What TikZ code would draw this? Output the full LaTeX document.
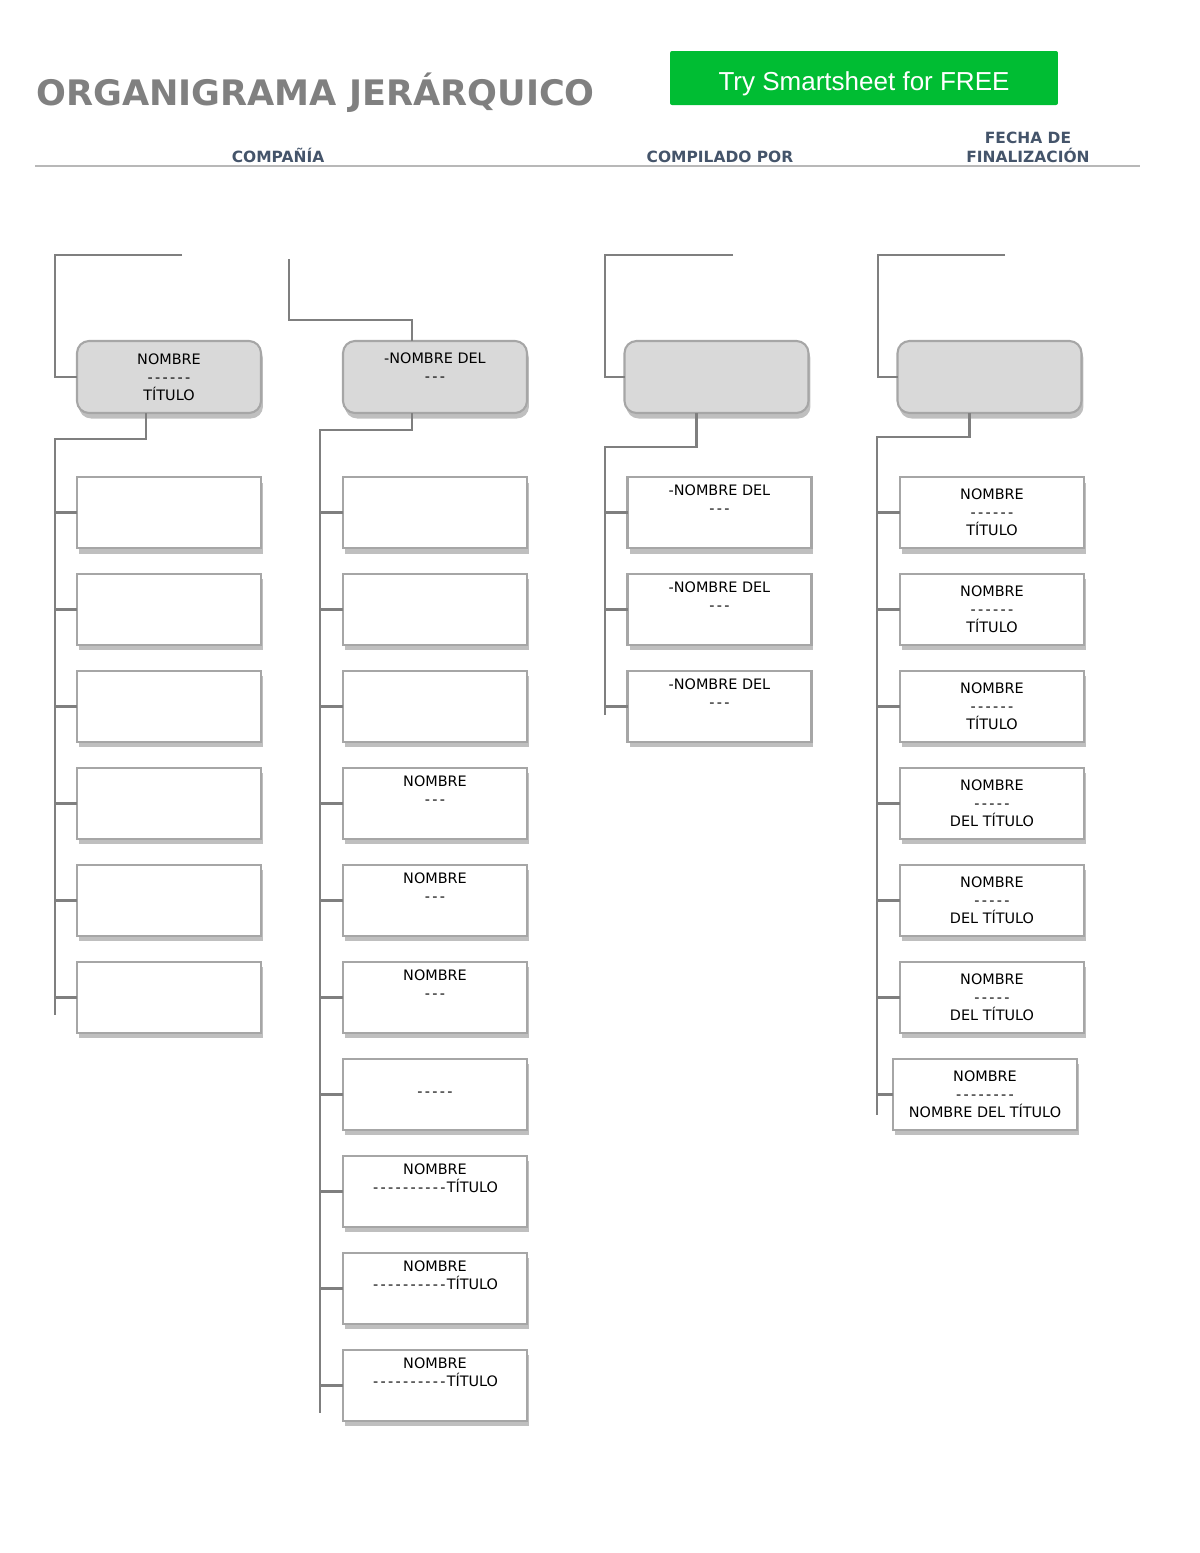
\documentclass[tikz,border=0pt]{standalone}
\usepackage{fontspec}
\setmainfont{DejaVu Sans}
\newfontfamily\botonfont{Liberation Sans}
\usetikzlibrary{positioning,shadows}
\definecolor{gristitulo}{HTML}{808080}
\definecolor{azulcab}{HTML}{44546A}
\definecolor{verdeboton}{HTML}{00BD33}
\definecolor{grislinea}{HTML}{7F7F7F}
\definecolor{borde}{HTML}{A6A6A6}
\definecolor{rellenojefe}{HTML}{D9D9D9}
\newcommand\letra{\fontsize{8.2}{10.2}\selectfont}
\newcommand\rayas[1]{\foreach \k in {1,...,#1}{\kern0.65pt-\kern0.65pt}}

\begin{document}
\begin{tikzpicture}[
		x=0.02cm, y=-0.02cm,
		node distance=0.52cm,
		jefe/.style={
			draw=borde, line width=1.2pt, fill=rellenojefe, rounded corners=0.24cm, minimum width=3.68cm,
			minimum height=1.44cm, outer sep=0, align=center, font=\letra,
			drop shadow={shadow xshift=0.04cm, shadow yshift=-0.11cm, opacity=0.5}
		},
		cargo/.style={
			draw=borde, line width=1.2pt, fill=white, minimum width=3.68cm, minimum height=1.42cm,
			outer sep=0, align=center, font=\letra,
			drop shadow={shadow xshift=0.04cm, shadow yshift=-0.11cm, opacity=0.5}
		},
		arriba/.style={label={[anchor=north, inner sep=0, yshift=-4.5pt, align=center, font=\letra]north:#1}},
		arribajefe/.style={label={[anchor=north, inner sep=0, yshift=-6.5pt, align=center, font=\letra]north:#1}},
		conector/.style={draw=grislinea, line width=1.4pt},
		cabecera/.style={font=\bfseries\fontsize{8.8}{10.8}\selectfont, text=azulcab, align=center, inner sep=0}
		]
		\useasboundingbox (0,0) rectangle (1200,1553);
		
		% encabezado
		\node[anchor=base west, inner sep=0, text=gristitulo, font=\bfseries\fontsize{20}{24}\selectfont] (titulo) at (36,105) {ORGANIGRAMA JERÁRQUICO};
		\node[fill=verdeboton, rounded corners=0.04cm, minimum width=7.76cm, minimum height=1.08cm, text=white,
			font=\botonfont\fontsize{14.8}{17}\selectfont, text depth=0pt, text height=14pt] (prueba) at (864,78) {Try Smartsheet for FREE};
		\node[cabecera, anchor=base] (compania) at (278,162) {COMPAÑÍA};
		\node[cabecera, anchor=base] (compilado) at (720,162) {COMPILADO POR};
		\node[cabecera, anchor=base] (fecha) at (1028,162) {FECHA DE\\FINALIZACIÓN};
		\draw[draw=borde!80, line width=0.9pt] (35,166) -- (1140,166);
		
		% jefes
		\node[jefe] (jA) at (169,377) {NOMBRE\\\rayas{6}\\TÍTULO};
		\node[jefe, arribajefe={-NOMBRE DEL\\\rayas{3}}] (jB) at (435,377) {};
		\node[jefe] (jC) at (716.5,377) {};
		\node[jefe] (jD) at (989.5,377) {};
		
		% columna A
		\node[cargo] (a1) at (169,512.5) {};
		\node[cargo, below=of a1] (a2) {};
		\node[cargo, below=of a2] (a3) {};
		\node[cargo, below=of a3] (a4) {};
		\node[cargo, below=of a4] (a5) {};
		\node[cargo, below=of a5] (a6) {};
		
		% columna B
		\node[cargo] (b1) at (435,512.5) {};
		\node[cargo, below=of b1] (b2) {};
		\node[cargo, below=of b2] (b3) {};
		\node[cargo, below=of b3, arriba={NOMBRE\\\rayas{3}}] (b4) {};
		\node[cargo, below=of b4, arriba={NOMBRE\\\rayas{3}}] (b5) {};
		\node[cargo, below=of b5, arriba={NOMBRE\\\rayas{3}}] (b6) {};
		\node[cargo, below=of b6] (b7) {\rayas{5}};
		\node[cargo, below=of b7, arriba={NOMBRE\\\rayas{10}TÍTULO}] (b8) {};
		\node[cargo, below=of b8, arriba={NOMBRE\\\rayas{10}TÍTULO}] (b9) {};
		\node[cargo, below=of b9, arriba={NOMBRE\\\rayas{10}TÍTULO}] (b10) {};
		
		% columna C
		\node[cargo, arriba={-NOMBRE DEL\\\rayas{3}}] (c1) at (719.5,512.5) {};
		\node[cargo, below=of c1, arriba={-NOMBRE DEL\\\rayas{3}}] (c2) {};
		\node[cargo, below=of c2, arriba={-NOMBRE DEL\\\rayas{3}}] (c3) {};
		
		% columna D
		\node[cargo] (d1) at (992,512.5) {NOMBRE\\\rayas{6}\\TÍTULO};
		\node[cargo, below=of d1] (d2) {NOMBRE\\\rayas{6}\\TÍTULO};
		\node[cargo, below=of d2] (d3) {NOMBRE\\\rayas{6}\\TÍTULO};
		\node[cargo, below=of d3] (d4) {NOMBRE\\\rayas{5}\\DEL TÍTULO};
		\node[cargo, below=of d4] (d5) {NOMBRE\\\rayas{5}\\DEL TÍTULO};
		\node[cargo, below=of d5] (d6) {NOMBRE\\\rayas{5}\\DEL TÍTULO};
		\node[cargo, below=of d6, xshift=-0.14cm] (d7) {NOMBRE\\\rayas{8}\\NOMBRE DEL TÍTULO};
		
		% puntos de los conectores
		\coordinate (topA) at (182,255);
		\coordinate (esqA) at (55,255);
		\coordinate (salA) at ([xshift=-0.46cm]jA.south);
		\coordinate (ramA) at (55,439);
		\coordinate (finA) at (55,1015);
		\coordinate (topB) at (289,259);
		\coordinate (codoB) at (289,320);
		\coordinate (entB) at ([xshift=-0.46cm]jB.north);
		\coordinate (salB) at ([xshift=-0.46cm]jB.south);
		\coordinate (ramB) at (320,430);
		\coordinate (finB) at (320,1413);
		\coordinate (topC) at (733,255);
		\coordinate (esqC) at (605,255);
		\coordinate (salC) at ([xshift=-0.4cm]jC.south);
		\coordinate (ramC) at (605,447);
		\coordinate (finC) at (605,715);
		\coordinate (topD) at (1005,255);
		\coordinate (esqD) at (878,255);
		\coordinate (salD) at ([xshift=-0.4cm]jD.south);
		\coordinate (ramD) at (877,437);
		\coordinate (finD) at (877,1115);
		
		% conectores
		\draw[conector] (topA) -- (esqA) |- (jA.west);
		\draw[conector] (salA) |- (ramA) -- (finA);
		\foreach \i in {1,...,6} \draw[conector] (a\i.west) -- (a\i.west -| ramA);
		
		\draw[conector] (entB) |- (codoB) -- (topB);
		\draw[conector] (salB) |- (ramB) -- (finB);
		\foreach \i in {1,...,10} \draw[conector] (b\i.west) -- (b\i.west -| ramB);
		
		\draw[conector] (topC) -- (esqC) |- (jC.west);
		\draw[conector] (salC) |- (ramC) -- (finC);
		\foreach \i in {1,...,3} \draw[conector] (c\i.west) -- (c\i.west -| ramC);
		
		\draw[conector] (topD) -- (esqD) |- (jD.west);
		\draw[conector] (salD) |- (ramD) -- (finD);
		\foreach \i in {1,...,7} \draw[conector] (d\i.west) -- (d\i.west -| ramD);
	\end{tikzpicture}
\end{document}
